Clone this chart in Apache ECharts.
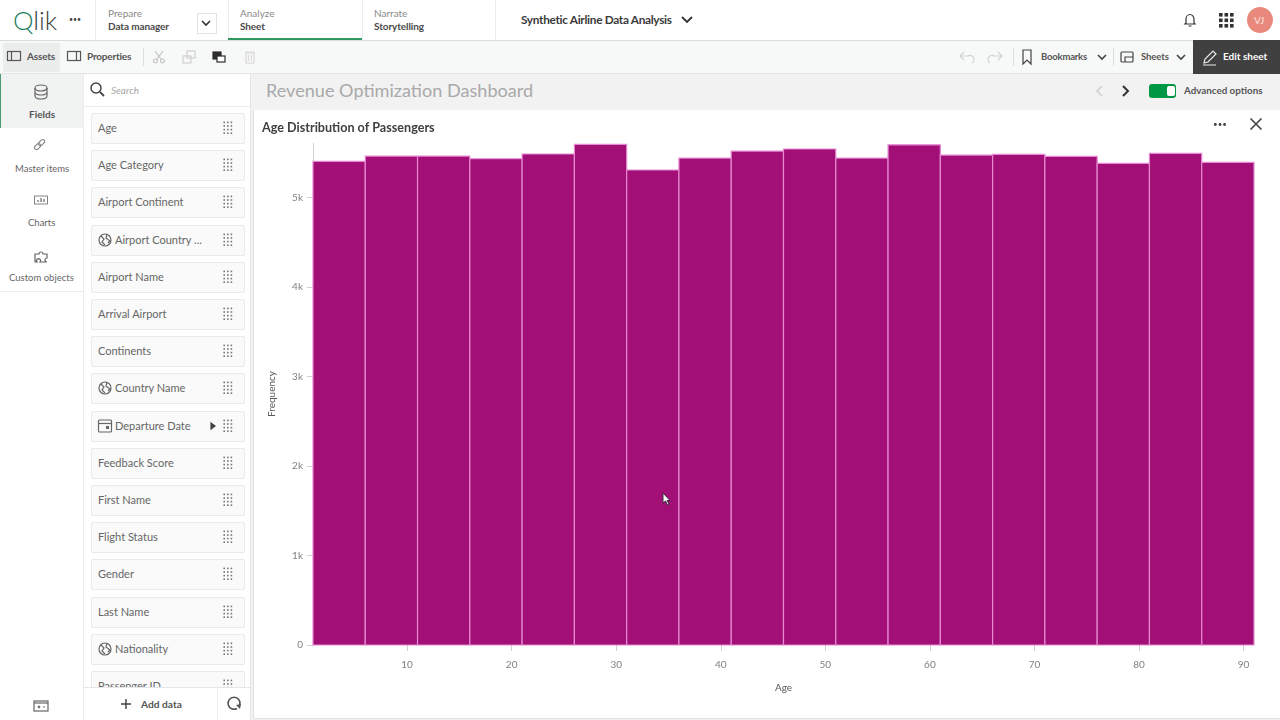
<!DOCTYPE html>
<html>
<head>
<meta charset="utf-8">
<title>Age Distribution of Passengers</title>
<script src="https://cdn.jsdelivr.net/npm/echarts@6/dist/echarts.min.js"></script>
<style>
  html, body { margin: 0; padding: 0; width: 1280px; height: 720px; overflow: hidden; background: #fff; }
  body, div, span { font-family: Lato, "Noto Sans", sans-serif; }
  .abs { position: absolute; }
  .txt { position: absolute; white-space: nowrap; line-height: 1; transform: translateY(-50%); }
  #container { position: absolute; left: 0; top: 0; width: 1280px; height: 720px; z-index: 5; }
  #chrome { position: absolute; left: 0; top: 0; width: 1280px; height: 720px; z-index: 1; overflow: hidden; }
  #front { position: absolute; left: 0; top: 0; width: 1280px; height: 720px; z-index: 10; pointer-events: none; overflow: hidden; }
  .card { position: absolute; left: 91px; width: 152px; height: 29px; background: #f9faf9; border: 1px solid #e9eae9; border-radius: 2px; }
  svg { position: absolute; overflow: visible; fill: none; }
</style>
</head>
<body>
<div id="chrome"></div>
<div id="container"></div>
<div id="front"></div>
<script>
// chart data
var binEdges = [1, 6, 11, 16, 21, 26, 31, 36, 41, 46, 51, 56, 61, 66, 71, 76, 81, 86, 91];
var ageCounts = [5405, 5464, 5464, 5434, 5487, 5595, 5308, 5442, 5520, 5543, 5442, 5590, 5475, 5483, 5460, 5382, 5494, 5394];
var xTicks = [10, 20, 30, 40, 50, 60, 70, 80, 90];
var yTicks = [0, 1000, 2000, 3000, 4000, 5000];

// Qlik side panel data
var fieldNames = ["Age", "Age Category", "Airport Continent", "Airport Country ...", "Airport Name", "Arrival Airport", "Continents", "Country Name", "Departure Date", "Feedback Score", "First Name", "Flight Status", "Gender", "Last Name", "Nationality", "Passenger ID"];
var fieldIcons = { "Airport Country ...": "globe", "Country Name": "globe", "Nationality": "globe", "Departure Date": "calendar" };
var railItems = ["Fields", "Master items", "Charts", "Custom objects"];

var chrome = document.getElementById("chrome");
var front = document.getElementById("front");

function box(x, y, w, h, color, parent) {
  var d = document.createElement("div");
  d.className = "abs";
  d.style.cssText = "left:" + x + "px;top:" + y + "px;width:" + w + "px;height:" + h + "px;background:" + color;
  (parent || chrome).appendChild(d);
  return d;
}

function text(str, x, y, size, color, weight, parent) {
  var d = document.createElement("span");
  d.className = "txt";
  d.textContent = str;
  d.style.cssText = "left:" + x + "px;top:" + y + "px;font-size:" + size + "px;color:" + color + ";font-weight:" + (weight || 400);
  (parent || chrome).appendChild(d);
  return d;
}

// bold labels in the reference are narrower than Lato, so tighten them a bit
function label(str, x, y, size, color, spacing, parent) {
  var d = text(str, x, y, size, color, 700, parent);
  d.style.letterSpacing = spacing + "px";
  return d;
}

function icon(x, y, color, body, parent) {
  var wrap = document.createElement("div");
  wrap.className = "abs";
  wrap.style.cssText = "left:" + x + "px;top:" + y + "px;width:0;height:0";
  wrap.innerHTML = '<svg width="1" height="1" stroke="' + color + '" stroke-width="1.2">' + body + "</svg>";
  (parent || chrome).appendChild(wrap);
}

var chevronDown = '<path d="M-4 -2 L0 2 L4 -2" stroke-width="1.6"/>';
var globe = '<circle r="6"/><path d="M-4 -4 L-1 -1 L-3 2 L0 5 M2 -6 L1 -2 L5 1 L3 3"/>';
var dotGrid = "";
for (var r = 0; r < 4; r++) {
  for (var c = 0; c < 3; c++) {
    dotGrid += '<rect x="' + (c * 3.6 - 4.6) + '" y="' + (r * 3.6 - 6.4) + '" width="1.6" height="1.6" fill="#777" stroke="none"/>';
  }
}

// backgrounds
box(0, 41, 1280, 32, "#f7f8f8");
box(0, 40, 1280, 1, "#dcdcdc");
box(0, 73, 1280, 1, "#e6e6e6");
box(251, 74, 1029, 646, "#f2f2f2");
box(254, 110, 1026, 608, "#fff");
box(253, 110, 1, 608, "#e2e2e2");
box(254, 718, 1026, 1, "#e2e2e2");
box(83, 74, 1, 646, "#ececec");
box(250, 74, 1, 646, "#e6e6e6");

// top bar
[95, 228, 362, 495].forEach(function (x) { box(x, 0, 1, 40, "#ececec"); });
box(228, 38, 134, 2, "#2f9a63");
var logo = text("", 13, 20, 26, "#3a3f3d", 300);
logo.innerHTML = '<span style="color:#1f7f62">Q</span>lik';
text("\u2022\u2022\u2022", 69, 19, 7, "#444");
text("Prepare", 108, 12.5, 10, "#8a8a8a");
label("Data manager", 108, 25.5, 10, "#4a4a4a", -0.1);
var dd = box(197, 13, 18, 19, "#fff");
dd.style.border = "1px solid #e2e2e2";
icon(206, 23, "#333", chevronDown);
text("Analyze", 240, 12.5, 10, "#8a8a8a");
label("Sheet", 240, 25.5, 10, "#4a4a4a", -0.1);
text("Narrate", 374, 12.5, 10, "#8a8a8a");
label("Storytelling", 374, 25.5, 10, "#4a4a4a", -0.1);
label("Synthetic Airline Data Analysis", 521, 20, 11.8, "#3a3a3a", -0.3);
icon(687, 20, "#333", '<path d="M-5 -3 L0 2 L5 -3" stroke-width="1.8"/>');
icon(1190, 20, "#333", '<path d="M-5 4 L-4 3 V-1 A4 4.5 0 0 1 4 -1 V3 L5 4 Z M-1.5 6 H1.5"/>');
var appGrid = "";
for (var gr = 0; gr < 3; gr++) {
  for (var gc = 0; gc < 3; gc++) {
    appGrid += '<rect x="' + (gc * 5.5 - 7) + '" y="' + (gr * 5.5 - 7) + '" width="3.6" height="3.6" fill="#333" stroke="none"/>';
  }
}
icon(1226, 20, "#333", appGrid);
var avatar = box(1247, 7, 26, 26, "#e9897e");
avatar.style.borderRadius = "50%";
text("VJ", 1254, 20, 10, "#fbe3df");

// toolbar
box(3, 43, 57, 29, "#ebecec");
icon(14, 56, "#555", '<rect x="-6.5" y="-4.5" width="13" height="9"/><path d="M-2.5 -4.5 V4.5"/>');
label("Assets", 27, 56, 10, "#555", -0.2);
icon(74, 56, "#555", '<rect x="-6.5" y="-4.5" width="13" height="9"/><path d="M2.5 -4.5 V4.5"/>');
label("Properties", 87, 56, 10, "#555", -0.2);
box(143, 48, 1, 18, "#dddddd");
icon(159, 57, "#c2c2c2", '<circle cx="-3.5" cy="4" r="2"/><circle cx="3.5" cy="4" r="2"/><path d="M-2.5 2.5 L4 -6 M2.5 2.5 L-4 -6"/>');
icon(189, 57, "#d0d0d0", '<rect x="-2" y="-6" width="8" height="7"/><rect x="-6" y="-1" width="8" height="7"/>');
icon(219, 57, "#2e2e2e", '<rect x="-6" y="-5" width="8" height="7" fill="#2e2e2e"/><rect x="-2" y="-1" width="8" height="6" fill="#fff"/>');
icon(250, 57, "#dadada", '<rect x="-4" y="-4" width="8" height="10"/><path d="M-5 -5 H5 M-1.5 -2 V4 M1.5 -2 V4"/>');
icon(966, 57, "#d2d2d2", '<path d="M-6 -1 L-2 -5 M-6 -1 L-2 3 M-6 -1 H2 A4 4 0 0 1 6 6"/>');
icon(996, 57, "#d2d2d2", '<path d="M6 -1 L2 -5 M6 -1 L2 3 M6 -1 H-2 A4 4 0 0 0 -6 6"/>');
box(1013, 48, 1, 18, "#dddddd");
icon(1027, 57, "#444", '<path d="M-4 -7 H4 V7 L0 3 L-4 7 Z"/>');
label("Bookmarks", 1041, 56.5, 9.5, "#555", -0.2);
icon(1102, 57, "#444", chevronDown);
box(1113, 48, 1, 18, "#dddddd");
icon(1127, 57, "#444", '<rect x="-6" y="-5" width="12" height="10" rx="1"/><path d="M-2 5 V0 H6"/>');
label("Sheets", 1141, 56.5, 9.5, "#555", -0.1);
icon(1181, 57, "#444", chevronDown);
box(1193, 40, 87, 34, "#404040");
icon(1210, 57, "#eaeaea", '<path d="M-6 6 L-5 2 L3 -6 L6 -3 L-2 5 Z M-7 8 H6"/>');
label("Edit sheet", 1223, 56, 10, "#ffffff", 0);

// sheet title row
text("Revenue Optimization Dashboard", 266, 90, 18.1, "#a9a9a9", 400);
icon(1099, 91, "#cfcfcf", '<path d="M3 -5 L-2 0 L3 5" stroke-width="1.6"/>');
icon(1125, 91, "#333", '<path d="M-2 -5 L3 0 L-2 5" stroke-width="2"/>');
var toggle = box(1149, 84, 27, 14, "#009845");
toggle.style.borderRadius = "3px";
var knob = box(1167, 86, 8, 10, "#fff");
knob.style.borderRadius = "2px";
label("Advanced options", 1184, 91, 9.8, "#555", 0);

// left rail
box(0, 74, 83, 54, "#f1f2f2");
box(0, 74, 1, 54, "#4a9a74");
box(0, 291, 83, 1, "#ececec");
var railY = [113.5, 168.5, 222.5, 277.5];
var railLeft = [29, 15, 28, 9];
railItems.forEach(function (name, i) {
  text(name, railLeft[i], railY[i], i === 0 ? 10 : 9.5, i === 0 ? "#555" : "#666", i === 0 ? 700 : 400);
});
icon(41, 92, "#666", '<ellipse cy="-4" rx="6" ry="3"/><path d="M-6 -4 V4 A6 3 0 0 0 6 4 V-4 M-6 0 A6 3 0 0 0 6 0"/>');
icon(41, 146, "#888", '<rect x="-5.5" y="-2" width="7" height="4" rx="2" transform="rotate(-45 -2 2)"/><rect x="-1.5" y="-6" width="7" height="4" rx="2" transform="rotate(-45 2 -2)"/>');
icon(41, 200, "#666", '<rect x="-6.5" y="-4" width="13" height="8" stroke-width="0.8"/><path d="M-3 2 V0 M0 2 V-2 M3 2 V-1" stroke-width="1.2"/>');
icon(41, 256, "#666", '<path d="M-6 -2 H-2 A2 2 0 1 1 2 -2 H6 V2 A2 2 0 1 0 6 6 H-1 A2 2 0 1 0 -4 6 H-6 Z"/>');

// search and field list
box(84, 74, 166, 33, "#fff");
box(84, 106, 166, 1, "#ececec");
icon(97, 89, "#444", '<circle cx="-1" cy="-1" r="5" stroke-width="1.5"/><path d="M3 3 L7 7" stroke-width="1.8"/>');
var search = text("Search", 111, 90, 10, "#a6a6a6");
search.style.fontStyle = "italic";

fieldNames.forEach(function (name, i) {
  var y = 128 + i * 37.2;
  var card = document.createElement("div");
  card.className = "card";
  card.style.top = (y - 15) + "px";
  chrome.appendChild(card);
  var kind = fieldIcons[name];
  if (kind === "globe") icon(104.5, y, "#666", globe);
  if (kind === "calendar") icon(104.5, y, "#666", '<rect x="-6.5" y="-6" width="13" height="12" rx="1"/><path d="M-6.5 -2.5 H6.5"/><rect x="1" y="0" width="3" height="3" fill="#666" stroke="none"/>');
  text(name, kind ? 115 : 98, y - 1, 11, "#666");
  icon(228, y, "#666", dotGrid);
  if (name === "Departure Date") icon(213, y, "#444", '<path d="M-2 -3 L2 0 L-2 3 Z" fill="#444"/>');
});

// bottom bar, sits over the clipped list
box(0, 688, 250, 32, "#fff", front);
box(84, 687, 166, 1, "#e6e6e6", front);
box(83, 688, 1, 32, "#ececec", front);
box(217, 688, 1, 32, "#ececec", front);
icon(41, 706, "#666", '<rect x="-7" y="-5" width="14" height="10"/><path d="M-7 -3 H7"/><path d="M-3 0 L-1 2 M-1 0 L-3 2 M2 1 H4"/>', front);
icon(126, 704, "#444", '<path d="M-5 0 H5 M0 -5 V5" stroke-width="1.4"/>', front);
label("Add data", 141, 703.5, 10.2, "#555", 0, front);
icon(234, 703, "#555", '<path d="M3 5.5 A6 6 0 1 1 5.8 2" stroke-width="1.6"/><path d="M2 2 L6 6 L7 1 Z" fill="#555" stroke="none"/>', front);

// object buttons and mouse pointer
text("\u2022\u2022\u2022", 1213, 124, 8, "#444", 400, front);
icon(1256, 124, "#444", '<path d="M-5.5 -5.5 L5.5 5.5 M5.5 -5.5 L-5.5 5.5" stroke-width="1.6"/>', front);
icon(663, 493, "#3a2a3a", '<path d="M0 0 V10 L2.5 8 L4.5 12 L6 11 L4 7.5 L7 7.5 Z" fill="#fff" stroke-width="1"/>', front);

// echart
var histData = ageCounts.map(function (v, i) {
  return [binEdges[i], binEdges[i + 1], v];
});

var myChart = echarts.init(document.getElementById("container"));

var option = {
  animation: false,
  backgroundColor: "transparent",
  title: {
    text: "Age Distribution of Passengers",
    left: 257,
    top: 116,
    textStyle: { fontFamily: "Lato", fontSize: 12.6, fontWeight: "bold", color: "#404040" },
  },
  grid: { left: 313, right: 26, top: 143, bottom: 75 },
  xAxis: {
    type: "value",
    min: 1,
    max: 91,
    offset: 2,
    name: "Age",
    nameLocation: "middle",
    nameGap: 36,
    nameTextStyle: { fontFamily: "Lato", fontSize: 10, color: "#595959" },
    axisLine: { show: false },
    axisTick: { show: true, length: 6, lineStyle: { color: "#cfcfcf" }, customValues: xTicks },
    axisLabel: { margin: 13, fontFamily: "Lato", fontSize: 10, color: "#808080", customValues: xTicks },
    splitLine: { show: false },
  },
  yAxis: {
    type: "value",
    min: 0,
    max: 5610,
    name: "Frequency",
    nameLocation: "middle",
    nameGap: 36,
    nameRotate: 90,
    nameTextStyle: { fontFamily: "Lato", fontSize: 10, color: "#595959" },
    axisLine: { show: true, lineStyle: { color: "#d4d4d4" } },
    axisTick: { show: true, length: 6, lineStyle: { color: "#cfcfcf" }, customValues: yTicks },
    axisLabel: {
      margin: 10,
      fontFamily: "Lato",
      fontSize: 10,
      color: "#808080",
      customValues: yTicks,
      formatter: function (v) {
        return v === 0 ? "0" : v / 1000 + "k";
      },
    },
    splitLine: { show: false },
  },
  series: [
    {
      type: "custom",
      name: "Frequency",
      data: histData,
      encode: { x: [0, 1], y: 2 },
      clip: false,
      renderItem: function (params, api) {
        var topLeft = api.coord([api.value(0), api.value(2)]);
        var bottomRight = api.coord([api.value(1), 0]);
        return {
          type: "rect",
          shape: {
            x: topLeft[0],
            y: topLeft[1],
            width: bottomRight[0] - topLeft[0],
            height: bottomRight[1] - topLeft[1],
          },
          style: { fill: "#a20f76", stroke: "#e58ad2", lineWidth: 1.2 },
        };
      },
    },
  ],
};

myChart.setOption(option);
</script>
</body>
</html>
